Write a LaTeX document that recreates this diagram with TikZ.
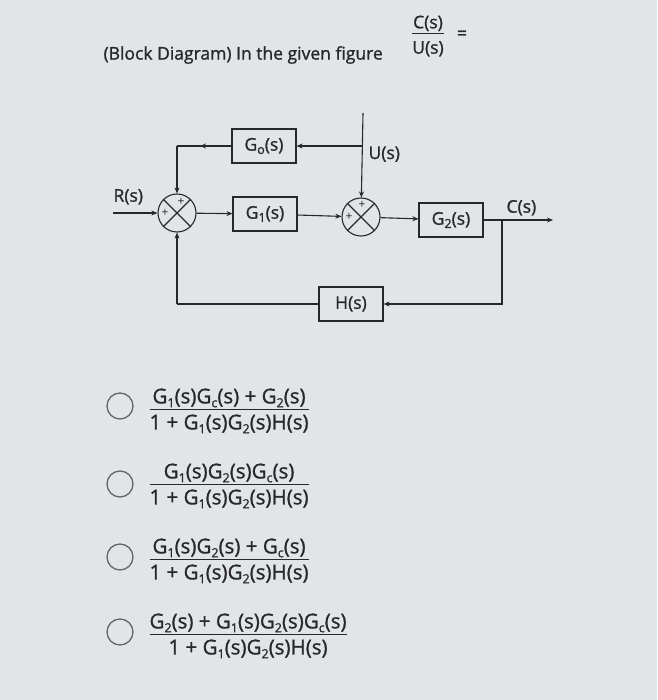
\documentclass[tikz,border=0pt]{standalone}
\usepackage{fontspec}
\setmainfont{Open Sans}[BoldFont=Open Sans,BoldFeatures={FakeBold=1.2}]
\usetikzlibrary{arrows.meta}
\definecolor{bg}{RGB}{226,229,231}
\definecolor{ink}{RGB}{40,40,42}
\newcommand\sbs[1]{\raisebox{-0.35ex}{\fontsize{12.5}{12}\selectfont #1}}
\newcommand\fr[2]{\begin{tabular}{@{}c@{}}#1\\[-1pt]\hline\rule{0pt}{20pt}#2\end{tabular}}
\begin{document}
\begin{tikzpicture}[x=1pt,y=-1pt,
  every node/.style={text=ink,font=\bfseries\fontsize{17.5}{20}\selectfont},
  blk/.style={draw=ink,line width=1.1pt,fill=bg,minimum width=64pt,minimum height=34pt,inner sep=0pt},
  sumj/.style={draw=ink,line width=1.1pt,circle,minimum size=38pt,inner sep=0pt},
  ln/.style={draw=ink,line width=1.1pt},
  arr/.style={ln,-{Stealth[length=6pt,width=5pt]}},
  optf/.style={anchor=west,font=\bfseries\fontsize{20.5}{22}\selectfont},
  opt/.style={draw=gray!80!black,line width=1.3pt,circle,minimum size=26pt,inner sep=0pt}]
\fill[bg] (0,0) rectangle (657,700);
\useasboundingbox (0,0) rectangle (657,700);
\node[anchor=west] (q) at (100,55) {(Block Diagram) In the given figure};
\node (f) at (428,37) {\fr{C(s)}{U(s)}};
\node (eq) at (462,35) {=};
\node[sumj] (s1) at (177,213) {};
\node[sumj] (s2) at (361,217) {};
\foreach \s in {s1,s2}{\draw[ln] (\s.north west)--(\s.south east) (\s.north east)--(\s.south west);}
\node[blk] (g0) at (264,146) {G\sbs{o}(s)};
\node[blk] (g1) at (265,214) {G\sbs{1}(s)};
\node[blk] (g2) at (451,220) {G\sbs{2}(s)};
\node[blk] (h) at (351,304) {H(s)};
\node[font=\fontsize{12}{12}\selectfont] at (181,202) {+};
\node[font=\fontsize{12}{12}\selectfont] at (165,213) {+};
\node[font=\fontsize{12}{12}\selectfont] at (362,205) {+};
\node[font=\fontsize{12}{12}\selectfont] at (349,217) {+};
\coordinate (rin) at (113,213);
\coordinate (utop) at (363,113);
\coordinate (ub) at (363,146);
\coordinate (tl) at (177,146);
\coordinate (cb) at (502,220);
\coordinate (cout) at (553,220);
\coordinate (bl) at (177,304);
\node[anchor=south west] (R) at (110,208) {R(s)};
\node[anchor=north west] (U) at (365,143) {U(s)};
\node[anchor=south west] (C) at (503,219) {C(s)};
\draw[arr] (rin) -- (s1);
\draw[arr] (s1) -- (g1);
\draw[arr] (g1) -- (s2);
\draw[arr] (s2) -- (g2);
\draw[arr] (g2) -- (cout);
\draw[arr] (utop) -- (s2);
\draw[arr] (ub) -- (g0);
\draw[ln] (g0) -- (tl);
\draw[arr] (tl) -- (s1);
\draw[arr] (cb) |- (h);
\draw[ln] (h) -- (bl);
\draw[arr] (bl) -- (s1);
\draw[ln,-{Stealth[length=6pt,width=5pt]}] (230,146) -- (200,146);
\node[opt] (o1) at (120,406) {};
\node[opt] (o2) at (120,484) {};
\node[opt] (o3) at (120,557) {};
\node[opt] (o4) at (120,632) {};
\node[optf] (a1) at (146,412) {\fr{G\sbs{1}(s)G\sbs{c}(s) + G\sbs{2}(s)}{1 + G\sbs{1}(s)G\sbs{2}(s)H(s)}};
\node[optf] (a2) at (146,487) {\fr{G\sbs{1}(s)G\sbs{2}(s)G\sbs{c}(s)}{1 + G\sbs{1}(s)G\sbs{2}(s)H(s)}};
\node[optf] (a3) at (146,562) {\fr{G\sbs{1}(s)G\sbs{2}(s) + G\sbs{c}(s)}{1 + G\sbs{1}(s)G\sbs{2}(s)H(s)}};
\node[optf] (a4) at (146,637) {\fr{G\sbs{2}(s) + G\sbs{1}(s)G\sbs{2}(s)G\sbs{c}(s)}{1 + G\sbs{1}(s)G\sbs{2}(s)H(s)}};
\end{tikzpicture}
\end{document}
